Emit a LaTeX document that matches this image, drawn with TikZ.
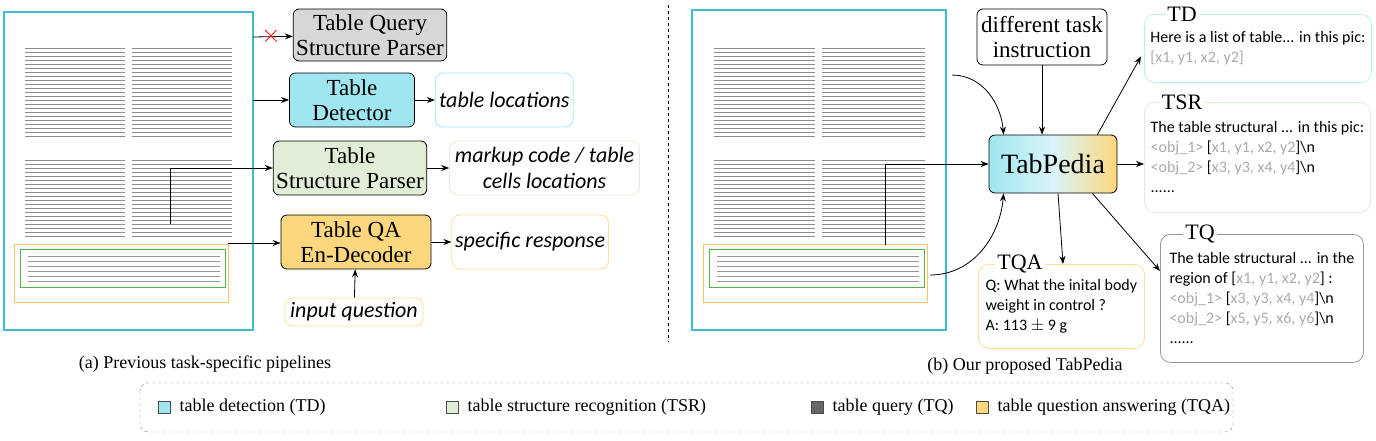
\documentclass[tikz,border=0pt]{standalone}
\usepackage{fontspec}
\setmainfont{Liberation Serif}
\newfontfamily\calfont{Carlito}
\usetikzlibrary{positioning,arrows.meta,calc}
\definecolor{tdcol}{RGB}{160,230,240}
\definecolor{tdline}{RGB}{60,190,205}
\definecolor{tsrcol}{RGB}{225,238,215}
\definecolor{tqcol}{RGB}{215,215,215}
\definecolor{tqacol}{RGB}{252,215,125}
\definecolor{txtgray}{RGB}{170,170,170}
\begin{document}
\begin{tikzpicture}[x=1pt,y=-1pt,>={Stealth[length=8pt,width=6pt]}]
\tikzstyle{box}=[draw=black,thick,rounded corners=6,align=center,inner sep=3pt,font=\fontsize{23}{25}\selectfont]
\tikzstyle{outbox}=[rounded corners=8,thick,align=center,font=\calfont\itshape\fontsize{22}{26}\selectfont]
\tikzstyle{res}=[rounded corners=10,thick,align=left,anchor=north west,font=\calfont\fontsize{16}{20}\selectfont,inner xsep=6pt,inner ysep=11pt]
\tikzstyle{ttl}=[fill=white,inner sep=2pt,font=\fontsize{22}{22}\selectfont]
\tikzstyle{leg}=[draw=black!70,minimum size=12pt,inner sep=0pt]
\tikzstyle{captxt}=[font=\fontsize{18}{22}\selectfont]
\useasboundingbox (0,0) rectangle (1376,440);

% left page
\draw[tdline,line width=2pt,fill=white] (4,12) rectangle (253,330);
\foreach \y in {48,52,...,138} {\draw[black!45,line width=0.6pt] (25,\y) -- (125,\y); \draw[black!45,line width=0.6pt] (132,\y) -- (232,\y);}
\foreach \y in {160,164,...,236} {\draw[black!45,line width=0.6pt] (25,\y) -- (125,\y); \draw[black!45,line width=0.6pt] (132,\y) -- (232,\y);}
\draw[tqacol!80!orange,thick] (14,244) rectangle (228,302);
\draw[green!60!black!70,thick] (20,249) rectangle (225,287);
\foreach \y in {256,261,...,284} \draw[black!40,line width=0.6pt] (28,\y) -- (220,\y);
\coordinate (pa1) at (253,37);
\coordinate (pa2) at (253,100);
\coordinate (pa3) at (170,224);
\coordinate (pa4) at (228,243);

\node[box,fill=tqcol,minimum width=150,minimum height=52] (tq) at (370,35) {Table Query\\Structure Parser};
\node[box,fill=tdcol,minimum width=125,minimum height=54] (det) at (352,100) {Table\\Detector};
\node[box,fill=tsrcol,minimum width=150,minimum height=54] (tsp) at (350,168) {Table\\Structure Parser};
\node[box,fill=tqacol,minimum width=150,minimum height=54] (qa) at (356,242) {Table QA\\En-Decoder};
\node[outbox,draw=tdcol,minimum width=138,minimum height=54,right=20pt of det] (loc) {table locations};
\node[outbox,draw=tsrcol,minimum width=190,minimum height=54,right=22pt of tsp] (mark) {markup code / table\\cells locations};
\node[outbox,draw=tqacol!80,minimum width=155,minimum height=54,right=20pt of qa] (resp) {specific response};
\node[outbox,draw=tqacol!80,minimum width=138,minimum height=28] (inq) at (354,312) {input question};

\draw[->,thick] (pa1) -- (tq);
\node[text=red,font=\bfseries\fontsize{34}{34}\selectfont] at (271,36) {$\times$};
\draw[->,thick] (pa2) -- (det);
\draw[->,thick] (pa3) |- (tsp);
\draw[->,thick] (pa4) -- (qa.west|-pa4);
\draw[->,thick] (det) -- (loc);
\draw[->,thick] (tsp) -- (mark);
\draw[->,thick] (qa) -- (resp);
\draw[->,thick] (inq) -- (qa);

\draw[dashed,thick] (668,5) -- (668,342);

% right page
\draw[tdline,line width=2pt,fill=white] (692,10) rectangle (946,330);
\foreach \y in {48,52,...,138} {\draw[black!45,line width=0.6pt] (714,\y) -- (815,\y); \draw[black!45,line width=0.6pt] (822,\y) -- (925,\y);}
\foreach \y in {160,164,...,236} {\draw[black!45,line width=0.6pt] (714,\y) -- (815,\y); \draw[black!45,line width=0.6pt] (822,\y) -- (925,\y);}
\draw[tqacol!80!orange,thick] (703,244) rectangle (927,302);
\draw[green!60!black!70,thick] (709,249) rectangle (924,287);
\foreach \y in {256,261,...,284} \draw[black!40,line width=0.6pt] (717,\y) -- (919,\y);
\coordinate (pb1) at (952,75);
\coordinate (pb2) at (930,275);
\coordinate (pb3) at (885,245);

\node[box,minimum width=130,minimum height=56] (ins) at (1042,37) {different task\\instruction};
\node[box,left color=tdcol,right color=tqacol,middle color=tdcol!40!white,minimum width=128,minimum height=58,font=\fontsize{28}{30}\selectfont] (tp) at (1053,164) {TabPedia};

\node[res,draw=tdcol!70,minimum width=226,minimum height=68] (td) at (1144,14) {Here is a list of table... in this pic:\\\textcolor{txtgray}{[x1, y1, x2, y2]}};
\node[ttl] at ($(td.north west)+(38,0)$) {TD};
\node[res,draw=tsrcol,minimum width=226,minimum height=110] (tsr) at (1144,102) {The table structural ... in this pic:\\\textcolor{txtgray}{<obj\_1>} [\textcolor{txtgray}{x1, y1, x2, y2}]\textbackslash n\\\textcolor{txtgray}{<obj\_2>} [\textcolor{txtgray}{x3, y3, x4, y4}]\textbackslash n\\......};
\node[ttl] at ($(tsr.north west)+(38,0)$) {TSR};
\node[res,draw=tqacol!80,minimum width=166,minimum height=84] (tqa) at (978,264) {Q: What the inital body\\weight in control ?\\A: 113 $\pm$ 9 g};
\node[ttl] at ($(tqa.north west)+(42,0)$) {TQA};
\node[res,draw=black!40,minimum width=203,minimum height=128] (tqr) at (1160,234) {The table structural ... in the\\region of [\textcolor{txtgray}{x1, y1, x2, y2}] :\\\textcolor{txtgray}{<obj\_1> }[\textcolor{txtgray}{x3, y3, x4, y4}]\textbackslash n\\\textcolor{txtgray}{<obj\_2> }[\textcolor{txtgray}{x5, y5, x6, y6}]\textbackslash n\\......};
\node[ttl] at ($(tqr.north west)+(40,0)$) {TQ};

\draw[->,thick] (pb1) to[out=0,in=95] ($(tp.north west)+(15,0)$);
\draw[->,thick] (pb2) to[out=0,in=-95] ($(tp.south west)+(15,0)$);
\draw[->,thick] (pb3) |- (tp.west);
\draw[->,thick] (ins) -- (ins|-tp.north);
\draw[->,thick] ($(tp.north east)+(-20,0)$) -- ($(td.west)+(-3,8)$);
\draw[->,thick] (tp.east) -- (tsr.west|-tp.east);
\draw[->,thick] ($(tp.south)+(5,0)$) -- ($(tqa.north west)+(85,0)$);
\draw[->,thick] ($(tp.south east)+(-25,0)$) -- ($(tqr.north west)+(0,37)$);

% captions
\node[captxt] (capa) at (205,364) {(a) Previous task-specific pipelines};
\node[captxt] (capb) at (1025,366) {(b) Our proposed TabPedia};

% legend
\draw[dashed,black!50,rounded corners=8] (140,383) rectangle (1233,432);
\node[leg,fill=tdcol] (l1) at (164,407) {};
\node[captxt,right=6pt of l1] {table detection (TD)};
\node[leg,fill=tsrcol] (l2) at (452,407) {};
\node[captxt,right=6pt of l2] {table structure recognition (TSR)};
\node[leg,fill=black!60] (l3) at (817,407) {};
\node[captxt,right=6pt of l3] {table query (TQ)};
\node[leg,fill=tqacol] (l4) at (982,407) {};
\node[captxt,right=6pt of l4] {table question answering (TQA)};
\end{tikzpicture}
\end{document}
